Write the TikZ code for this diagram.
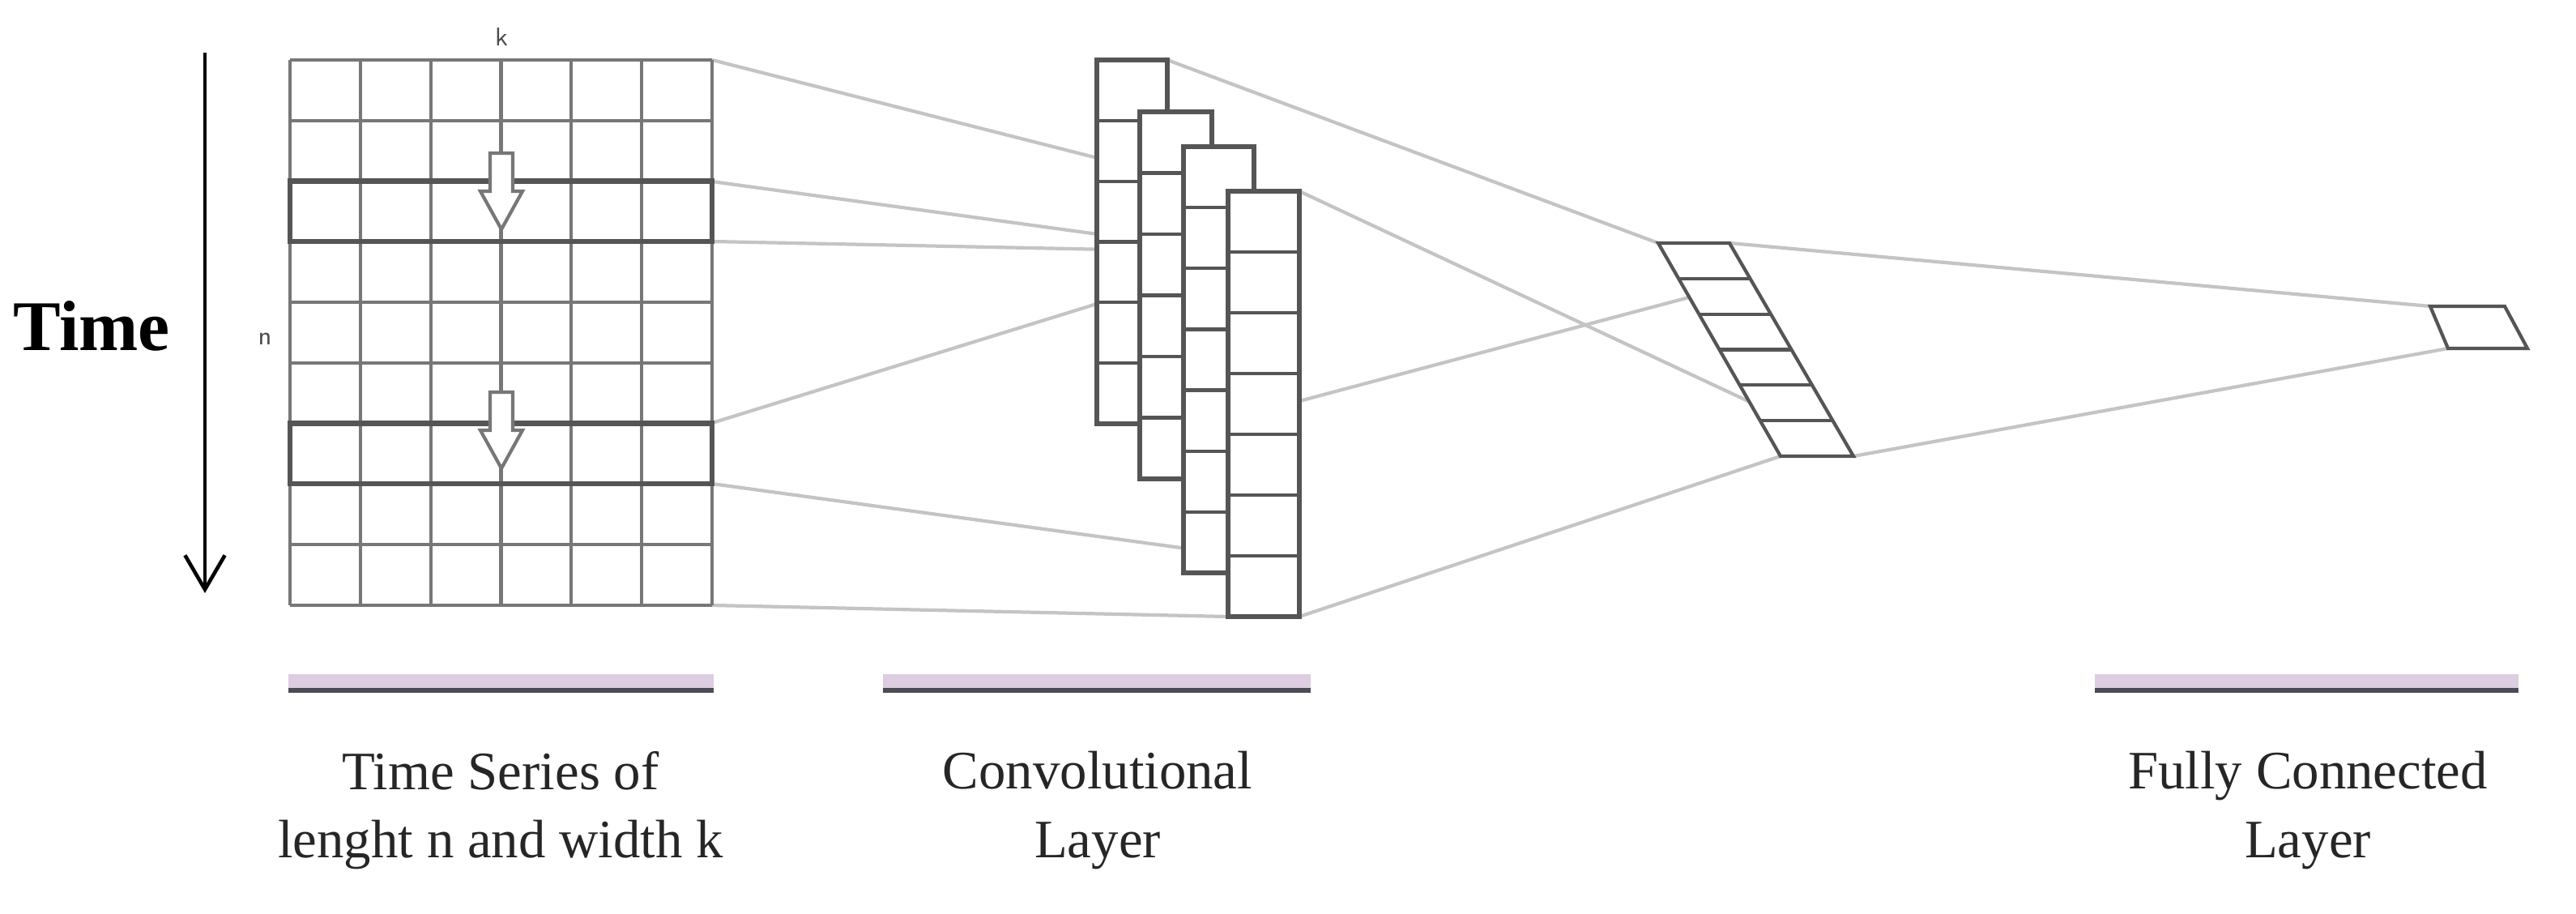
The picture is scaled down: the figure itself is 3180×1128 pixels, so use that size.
\documentclass[tikz,border=0pt]{standalone}
\usepackage{fontspec}
\setmainfont{Liberation Serif}
\usetikzlibrary{arrows.meta,calc}
\definecolor{gridc}{HTML}{777777}
\definecolor{colc}{HTML}{555555}
\definecolor{connc}{HTML}{C4C4C4}
\definecolor{lav}{HTML}{DCCDE0}
\definecolor{barc}{HTML}{4E4A55}
\begin{document}
\begin{tikzpicture}[x=0.01cm,y=-0.01cm,
  gridl/.style={draw=gridc,line width=1.2pt},
  win/.style={draw=colc,line width=1.8pt},
  conn/.style={draw=connc,line width=1.2pt},
  col/.style={draw=colc,fill=white,line width=1.5pt},
  cell/.style={draw=colc,line width=1.2pt},
  lbl/.style={font=\fontsize{19}{24}\selectfont,align=center,text=black!85}]
\useasboundingbox (0,0) rectangle (3180,1128);
% coordinates
\coordinate (gTR) at (879,74);
\coordinate (gW1a) at (879,224);
\coordinate (gW1b) at (879,298);
\coordinate (gW2a) at (879,522);
\coordinate (gW2b) at (879,597);
\coordinate (gBR) at (879,747);
\coordinate (c1TR) at (1441,74);
\coordinate (c1L) at (1354,375);
\coordinate (c4TL) at (1516,236);
\coordinate (c4L1) at (1516,311);
\coordinate (c4L2) at (1516,684);
\coordinate (c4BL) at (1516,761);
\coordinate (c4TR) at (1604,236);
\coordinate (c4R) at (1604,495);
\coordinate (c4BR) at (1604,761);
\coordinate (pTL) at (2047,300);
\coordinate (pTR) at (2135,300);
\coordinate (pBR) at (2288,563);
\coordinate (pBL) at (2198,563);
\coordinate (pE1) at (2160,496);
\coordinate (pE2) at (2085,367);
\coordinate (fTL) at (3000,378);
\coordinate (fTR) at (3092,378);
\coordinate (fBR) at (3120,430);
\coordinate (fBL) at (3022,430);
% connectors (behind)
\draw[conn] (gTR) -- (c4TL);
\draw[conn] (gW1a) -- (c4L1);
\draw[conn] (gW1b) -- (c4L1);
\draw[conn] (gW2a) -- (c1L);
\draw[conn] (gW2b) -- (c4L2);
\draw[conn] (gBR) -- (c4BL);
\draw[conn] (c1TR) -- (pTL);
\draw[conn] (c4TR) -- (pE1);
\draw[conn] (c4R) -- (pE2);
\draw[conn] (c4BR) -- (pBL);
\draw[conn] (pTR) -- (fTL);
\draw[conn] (pBR) -- (fBL);
% input grid
\foreach \i in {0,...,9} \draw[gridl] (358,{74+\i*74.78}) -- (879,{74+\i*74.78});
\foreach \j in {0,...,6} \draw[gridl] ({358+\j*86.83},74) -- ({358+\j*86.83},747);
\draw[win] (358,223.6) rectangle (879,298.3);
\draw[win] (358,522.5) rectangle (879,597.2);
% block arrows
\foreach \t in {189,484}{
  \draw[gridl,fill=white,line join=miter] (605,\t) -- (633,\t) -- (633,\t+47) -- (645,\t+47) -- (619,\t+94) -- (593,\t+47) -- (605,\t+47) -- cycle;}
\node[font=\sffamily\fontsize{9}{10}\selectfont,text=black!70] (k) at (619,46) {k};
\node[font=\sffamily\fontsize{9}{10}\selectfont,text=black!70] (n) at (327,418) {n};
% time arrow
\draw[line width=1.3pt,-{Straight Barb[length=12pt,width=14pt]}] (253,65) -- (253,732);
\node[font=\bfseries\fontsize{25}{30}\selectfont] (time) at (113,402) {Time};
% conv columns
\foreach \x/\y/\w/\h/\n in {1354/74/87/449/6,1407/138/89/453/6,1461/181/87/526/7,1516/236/88/525/7}{
  \draw[col] (\x,\y) rectangle (\x+\w,\y+\h);
  \pgfmathtruncatemacro{\m}{\n-1}
  \foreach \i in {1,...,\m} \draw[cell] (\x,{\y+\i*\h/\n}) -- (\x+\w,{\y+\i*\h/\n});
}
% dense layer parallelogram
\draw[cell,fill=white] (pTL) -- (pTR) -- (pBR) -- (pBL) -- cycle;
\foreach \i in {1,...,5} \draw[cell] ($(pTL)!\i/6!(pBL)$) -- ($(pTR)!\i/6!(pBR)$);
\draw[cell,fill=white] (fTL) -- (fTR) -- (fBR) -- (fBL) -- cycle;
% label bars
\foreach \a/\b in {356/881,1090/1618,2586/3109}{
  \fill[lav] (\a,832) rectangle (\b,849);
  \fill[barc] (\a,849) rectangle (\b,855);
}
\node[lbl] (l1) at (618,1000) {Time Series of\\lenght n and width k};
\node[lbl] (l2) at (1355,1000) {Convolutional\\Layer};
\node[lbl] (l3) at (2849,1000) {Fully Connected\\Layer};
\end{tikzpicture}
\end{document}
